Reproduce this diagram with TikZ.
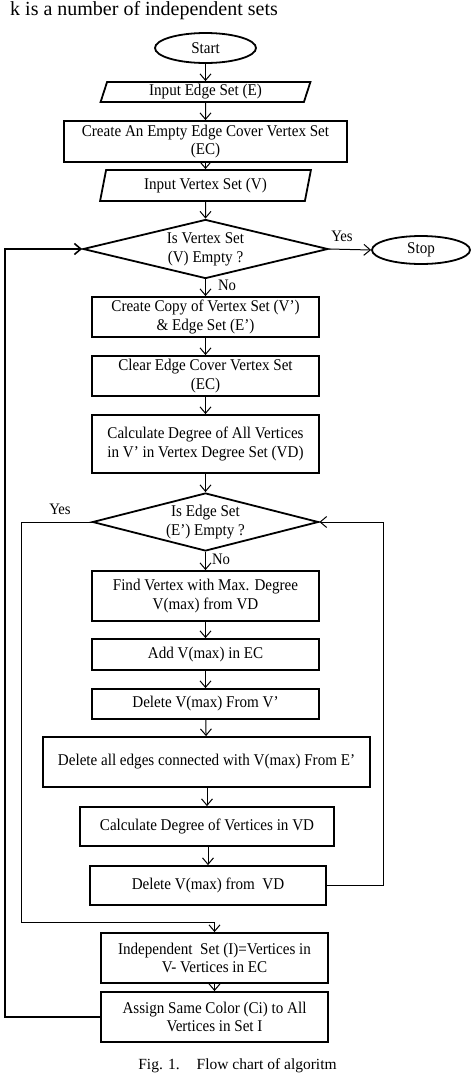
\documentclass[tikz,border=0pt]{standalone}
\usepackage{fontspec}
\setmainfont{Liberation Serif}
\newfontfamily\boxfont{Liberation Serif}[FakeStretch=0.92]
\usetikzlibrary{shapes.geometric,arrows.meta}
\begin{document}
\begin{tikzpicture}[x=1pt,y=-1pt,
  every node/.style={inner sep=0pt, font=\boxfont\fontsize{16.4}{18.7}\selectfont, align=center},
  box/.style={draw, line width=1.8pt, rectangle},
  io/.style={draw, line width=1.8pt, trapezium, trapezium left angle=76, trapezium right angle=104, trapezium stretches=true},
  term/.style={draw, line width=1.8pt, ellipse},
  dec/.style={draw, line width=1.8pt, diamond},
  arr/.style={line width=1pt, -{Straight Barb[length=6.5pt,width=11pt]}},
  loopl/.style={line width=1.6pt, -{Straight Barb[length=6.5pt,width=11pt]}},
  lbl/.style={font=\boxfont\fontsize{16}{18}\selectfont}
]
\useasboundingbox (0,0) rectangle (474,1074);

\node[anchor=base west, font=\fontsize{20}{24}\selectfont] (title) at (10,15) {k is a number of independent sets};

\node[term, minimum width=101pt, minimum height=30pt] (start) at (205.5,48) {Start};
\node[io, minimum width=210pt, minimum height=20pt] (inE) at (205.5,92) {Input Edge Set (E)};
\node[box, minimum width=283pt, minimum height=41pt] (ec) at (205.5,141.5) {Create An Empty Edge Cover Vertex Set\\(EC)};
\node[io, minimum width=211pt, minimum height=31pt] (inV) at (205.5,185.5) {Input Vertex Set (V)};
\node[dec, aspect=4.15, minimum width=245pt, minimum height=59pt] (d1) at (205.5,249) {Is Vertex Set\\(V) Empty ?};
\node[term, minimum width=98pt, minimum height=28pt] (stop) at (421,250) {Stop};
\node[box, minimum width=227pt, minimum height=40pt] (copy) at (205.5,317) {Create Copy of Vertex Set (V’)\\\& Edge Set (E’)};
\node[box, minimum width=227pt, minimum height=40pt] (clear) at (205.5,376) {Clear Edge Cover Vertex Set\\(EC)};
\node[box, minimum width=227pt, minimum height=58pt] (calc) at (205.5,444) {Calculate Degree of All Vertices\\in V’ in Vertex Degree Set (VD)};
\node[dec, aspect=3.9, minimum width=226pt, minimum height=58pt] (d2) at (205.5,522) {Is Edge Set\\(E’) Empty ?};
\node[box, minimum width=227pt, minimum height=50pt] (find) at (205.5,596) {Find Vertex with Max. Degree\\V(max) from VD};
\node[box, minimum width=227pt, minimum height=31pt] (add) at (205.5,654.5) {Add V(max) in EC};
\node[box, minimum width=227pt, minimum height=30pt] (delv) at (205.5,704) {Delete V(max) From V’};
\node[box, minimum width=327pt, minimum height=50pt] (dele) at (206.5,762) {Delete all edges connected with V(max) From E’};
\node[box, minimum width=254pt, minimum height=39pt] (calcvd) at (207,826.5) {Calculate Degree of Vertices in VD};
\node[box, minimum width=236pt, minimum height=39pt] (delvd) at (208,885.5) {Delete V(max) from\ \ VD};
\node[box, minimum width=227pt, minimum height=50pt] (indep) at (214.5,958) {Independent\ \ Set (I)=Vertices in\\V- Vertices in EC};
\node[box, minimum width=227pt, minimum height=50pt] (assign) at (214.5,1017) {Assign Same Color (Ci) to All\\Vertices in Set I};

\node[anchor=base, font=\fontsize{15.5}{18}\selectfont] (cap) at (237.5,1069) {Fig. 1.\hspace{1.1em}Flow chart of algoritm};

% labels
\node[lbl] (yes1) at (342,236) {Yes};
\node[lbl] (no1) at (227,285) {No};
\node[lbl] (yes2) at (60,509) {Yes};
\node[lbl] (no2) at (221,559) {No};

% straight connectors
\draw[arr] (start) -- (inE);
\draw[arr] (inE) -- (ec);
\draw[arr] (ec) -- (inV);
\draw[arr] (inV) -- (d1);
\draw[arr] (d1.east) -- (stop.west);
\draw[arr] (d1.south) -- (copy.north);
\draw[arr] (copy) -- (clear);
\draw[arr] (clear) -- (calc);
\draw[arr] (calc) -- (d2);
\draw[arr] (d2.south) -- (find.north);
\draw[arr] (find) -- (add);
\draw[arr] (add) -- (delv);
\draw[arr] (delv) -- (dele);
\draw[arr] (dele.south -| calcvd.north) -- (calcvd.north);
\draw[arr] (calcvd.south -| delvd.north) -- (delvd.north);
\draw[arr] (indep) -- (assign);

% loops
\coordinate (lp) at (5,0);
\coordinate (yl) at (21,922);
\coordinate (rl) at (383,0);
\draw[loopl] (assign.west) -- (assign.west -| lp) -- (d1.west -| lp) -- (d1.west);
\draw[arr] (d2.west) -| (yl) -| (indep.north);
\draw[arr] (delvd.east) -- (delvd.east -| rl) -- (d2.east -| rl) -- (d2.east);
\end{tikzpicture}
\end{document}
